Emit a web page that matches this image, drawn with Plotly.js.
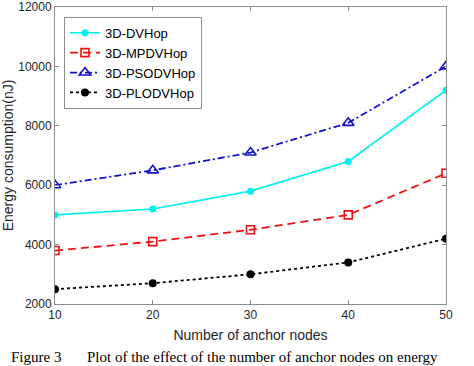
<!DOCTYPE html>
<html>
<head>
<meta charset="utf-8">
<script src="https://cdn.plot.ly/plotly-3.0.1.min.js"></script>
<style>html,body{margin:0;padding:0;background:#fff;overflow:hidden}#chart{width:474px;height:366px}</style>
</head>
<body>
<div id="chart"></div>
<script>
const anchorNodes = [10, 20, 30, 40, 50];
const dvhop = [5000, 5200, 5800, 6800, 9200];
const mpdvhop = [3800, 4100, 4500, 5000, 6400];
const psodvhop = [6000, 6500, 7100, 8100, 10000];
const plodvhop = [2500, 2700, 3000, 3400, 4200];
const seriesNames = ['3D-DVHop', '3D-MPDVHop', '3D-PSODVHop', '3D-PLODVHop'];
const yTicks = [2000, 4000, 6000, 8000, 10000, 12000];
const yTickText = ['2000', '4000', '6000', '8000', '10000', '12000'];
const xTicks = [10, 20, 30, 40, 50];

const traces = [
  {x: anchorNodes, y: dvhop, name: seriesNames[0], mode: 'lines+markers',
   line: {color: '#00f0f0', width: 1.6, dash: 'solid'},
   marker: {symbol: 'circle', size: 7, color: '#00f0f0'}},
  {x: anchorNodes, y: mpdvhop, name: seriesNames[1], mode: 'lines+markers',
   line: {color: '#ee1111', width: 1.8, dash: '8px,5px'},
   marker: {symbol: 'square-open', size: 8, color: '#ee1111', line: {width: 1.6, color: '#ee1111'}}},
  {x: anchorNodes, y: psodvhop, name: seriesNames[2], mode: 'lines+markers',
   line: {color: '#1111cc', width: 1.8, dash: '7px,3px,2px,3px'},
   marker: {symbol: 'triangle-up-open', size: 10, color: '#1111cc', line: {width: 1.6, color: '#1111cc'}}},
  {x: anchorNodes, y: plodvhop, name: seriesNames[3], mode: 'lines+markers',
   line: {color: '#000000', width: 1.8, dash: 'dot'},
   marker: {symbol: 'circle', size: 8, color: '#000000'}}
];

const axisCommon = {
  showline: true, linecolor: '#8c8c8c', linewidth: 1, mirror: 'ticks',
  ticks: 'inside', ticklen: 4, tickcolor: '#8c8c8c', showgrid: false, zeroline: false,
  ticklabeloverflow: 'allow',
  tickfont: {family: 'Liberation Sans, Arial, sans-serif', size: 12, color: '#262626'}
};

const layout = {
  width: 474, height: 366,
  margin: {l: 55, r: 28, t: 7, b: 62},
  paper_bgcolor: '#fff', plot_bgcolor: '#fff',
  showlegend: true,
  legend: {x: 0.023, y: 0.967, xanchor: 'left', yanchor: 'top',
    bgcolor: '#fff', bordercolor: '#8c8c8c', borderwidth: 1,
    font: {family: 'Liberation Sans, Arial, sans-serif', size: 13, color: '#000'},
    tracegroupgap: 0},
  xaxis: Object.assign({}, axisCommon, {range: [10, 50], tickvals: xTicks,
    title: {text: 'Number of anchor nodes', standoff: 8,
      font: {family: 'Liberation Sans, Arial, sans-serif', size: 14, color: '#262626'}}}),
  yaxis: Object.assign({}, axisCommon, {range: [2000, 12000], tickvals: yTicks, ticktext: yTickText,
    title: {text: 'Energy consumption(nJ)', standoff: 8,
      font: {family: 'Liberation Sans, Arial, sans-serif', size: 14, color: '#262626'}}}),
  annotations: [
    {text: 'Figure 3', xref: 'paper', yref: 'paper', x: -0.118, y: -0.145,
     xanchor: 'left', yanchor: 'top', showarrow: false,
     font: {family: 'Liberation Serif, Times New Roman, serif', size: 15, color: '#000'}},
    {text: 'Plot of the effect of the number of anchor nodes on energy', xref: 'paper', yref: 'paper',
     x: 0.077, y: -0.145, xanchor: 'left', yanchor: 'top', showarrow: false,
     font: {family: 'Liberation Serif, Times New Roman, serif', size: 15, color: '#000'}}
  ]
};

Plotly.newPlot('chart', traces, layout, {staticPlot: true, displayModeBar: false});
</script>
</body>
</html>
